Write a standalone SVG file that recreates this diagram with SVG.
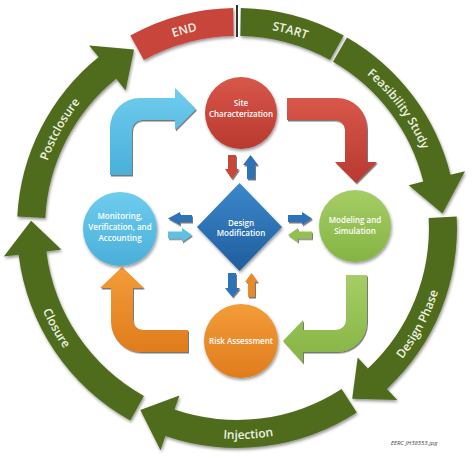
<svg xmlns="http://www.w3.org/2000/svg" xmlns:xlink="http://www.w3.org/1999/xlink" width="474" height="461" viewBox="0 0 474 461">
<style>
.ring{fill:#506c1e;filter:url(#sh)}
.rlab{font-family:"Open Sans","Liberation Sans",sans-serif;font-size:12px;font-weight:600;fill:#eef1e2;text-anchor:middle}
.nlab{font-family:"Open Sans","Liberation Sans",sans-serif;font-size:8px;font-weight:600;fill:#ffffff;text-anchor:middle}
.node{filter:url(#sh)}
.conn path{filter:url(#sh2)}
</style>
<defs>
<filter id="sh" x="-20%" y="-20%" width="140%" height="140%"><feDropShadow dx="1" dy="2" stdDeviation="1.5" flood-color="#000" flood-opacity="0.4"/></filter>
<filter id="sh2" x="-20%" y="-20%" width="140%" height="140%"><feDropShadow dx="1" dy="1.5" stdDeviation="0.6" flood-color="#1a1a1a" flood-opacity="0.6"/></filter>
<linearGradient id="gRed" x1="0" y1="0" x2="0" y2="1"><stop offset="0" stop-color="#d8574a"/><stop offset="1" stop-color="#b9392f"/></linearGradient>
<linearGradient id="gLB" x1="0" y1="0" x2="0" y2="1"><stop offset="0" stop-color="#6fcdee"/><stop offset="1" stop-color="#4aafd9"/></linearGradient>
<linearGradient id="gGr" x1="0" y1="0" x2="0" y2="1"><stop offset="0" stop-color="#a6cd66"/><stop offset="1" stop-color="#84b443"/></linearGradient>
<linearGradient id="gOr" x1="0" y1="0" x2="0" y2="1"><stop offset="0" stop-color="#f39c38"/><stop offset="1" stop-color="#e07c1d"/></linearGradient>
<linearGradient id="gBl" x1="0" y1="0" x2="0" y2="1"><stop offset="0" stop-color="#3c88cb"/><stop offset="1" stop-color="#1f5d9d"/></linearGradient>
<path id="cw" d="M237,27 A201,201 0 1 1 237,429 A201,201 0 1 1 237,27"/>
<path id="ccw" d="M237,17 A211,211 0 1 0 237,439 A211,211 0 1 0 237,17"/>
</defs>
<rect width="474" height="461" fill="#ffffff"/>

<g id="end">
<path d="M130.3,35.6 A220,220 0 0 1 233.2,8.0 L233.65,36.0 A192,192 0 0 0 143.9,60.1 Z" fill="#c8443b" filter="url(#sh)"/>
<text class="rlab"><textPath href="#cw" xlink:href="#cw" startOffset="1210">END</textPath></text>
</g>
<g id="start">
<path class="ring" d="M240.8,8.0 A220,220 0 0 1 343.7,35.6 L330.1,60.1 A192,192 0 0 0 240.35,36.0 Z"/>
<text class="rlab"><textPath href="#cw" xlink:href="#cw" startOffset="53">START</textPath></text>
</g>
<line x1="237" y1="5" x2="237" y2="37" stroke="#1e1e1e" stroke-width="1.8"/>
<g id="feasibility">
<path class="ring" d="M347,37.5 A220,220 0 0 1 450.5,174.8 L465.0,171.2 L442.5,213.6 L408.7,185.2 L423.3,181.6 A192,192 0 0 0 333,61.7 Z"/>
<text class="rlab"><textPath href="#cw" xlink:href="#cw" startOffset="188">Feasibility Study</textPath></text>
</g>
<g id="design-phase">
<path class="ring" d="M456.7,216.5 A220,220 0 0 1 387.0,388.9 L397.3,399.9 L352.2,398.8 L357.7,357.5 L367.9,368.4 A192,192 0 0 0 428.7,218.0 Z"/>
<text class="rlab"><textPath href="#ccw" xlink:href="#ccw" startOffset="891">Design Phase</textPath></text>
</g>
<g id="injection">
<path class="ring" d="M356.8,412.5 A220,220 0 0 1 165.4,436.0 L160.5,450.2 L140.3,409.9 L179.4,395.4 L174.5,409.5 A192,192 0 0 0 341.6,389.0 Z"/>
<text class="rlab"><textPath href="#ccw" xlink:href="#ccw" startOffset="674">Injection</textPath></text>
</g>
<g id="closure">
<path class="ring" d="M130.3,420.4 A220,220 0 0 1 18.6,254.8 L3.8,256.6 L31.1,220.8 L61.3,249.6 L46.4,251.4 A192,192 0 0 0 143.9,395.9 Z"/>
<text class="rlab"><textPath href="#ccw" xlink:href="#ccw" startOffset="438">Closure</textPath></text>
</g>
<g id="postclosure">
<path class="ring" d="M17.3,216.5 A220,220 0 0 1 98.6,57.0 L89.1,45.4 L134,49.6 L125.6,90.5 L116.2,78.8 A192,192 0 0 0 45.3,218.0 Z"/>
<text class="rlab"><textPath href="#cw" xlink:href="#cw" startOffset="1049">Postclosure</textPath></text>
</g>

<g id="connectors" class="conn">
<path d="M110,175 L110,128 A30,30 0 0 1 140,98 L175,98 L175,88 L196,109 L175,130 L175,120 L142,120 A10,10 0 0 0 132,130 L132,175 Z" fill="url(#gLB)"/>
<path d="M287,98 L337,98 A30,30 0 0 1 367,128 L367,162 L377,162 L356,183 L335,162 L345,162 L345,130 A10,10 0 0 0 335,120 L287,120 Z" fill="url(#gRed)"/>
<path d="M346,275 L367,275 L367,322 A30,30 0 0 1 337,352 L303,352 L303,363 L283,341 L303,320 L303,330 L336,330 A10,10 0 0 0 346,320 Z" fill="url(#gGr)"/>
<path d="M188,330 L143,330 A10,10 0 0 1 133,320 L133,288 L144,288 L122,267 L100,288 L111,288 L111,322 A30,30 0 0 0 141,352 L188,352 Z" fill="url(#gOr)"/>
<path d="M228,155 L236,155 L236,169 L239,169 L232,179 L225,169 L228,169 Z" fill="#c8463b"/>
<path d="M247,179 L255,179 L255,165 L258,165 L250.5,155 L243,165 L247,165 Z" fill="#2f72b8"/>
<path d="M228,273 L236,273 L236,288 L240,288 L232.5,297 L225,288 L228,288 Z" fill="#2f72b8"/>
<path d="M248,297 L255,297 L255,282 L258,282 L251.5,273 L245,282 L248,282 Z" fill="#e8892c"/>
<path d="M192,215 L192,222 L180,222 L180,225 L168,218.5 L180,212 L180,215 Z" fill="#2f72b8"/>
<path d="M168,231.5 L168,238.5 L182,238.5 L182,242 L192,235 L182,228 L182,231.5 Z" fill="#5fc0e6"/>
<path d="M288,215 L288,222 L302,222 L302,225 L312,218.5 L302,212 L302,215 Z" fill="#2f72b8"/>
<path d="M312,231.5 L312,238.5 L298,238.5 L298,242 L288,235 L298,228 L298,231.5 Z" fill="#93c04f"/>
</g>

<g id="site-characterization">
<circle class="node" cx="241" cy="113" r="36" fill="url(#gRed)"/>
<text class="nlab" x="241" y="106">Site</text>
<text class="nlab" x="241" y="116.5">Characterization</text>
</g>
<g id="design-modification">
<path class="node" d="M239.5,183 L282,227 L239.5,271 L197,227 Z" fill="url(#gBl)"/>
<text class="nlab" x="241" y="225.5">Design</text>
<text class="nlab" x="241" y="235.5">Modification</text>
</g>
<g id="monitoring">
<circle class="node" cx="120" cy="229" r="37" fill="url(#gLB)"/>
<text class="nlab" x="120" y="218.5">Monitoring,</text>
<text class="nlab" x="120" y="229.5">Verification, and</text>
<text class="nlab" x="120" y="240.5">Accounting</text>
</g>
<g id="modeling">
<circle class="node" cx="355" cy="226" r="36" fill="url(#gGr)"/>
<text class="nlab" x="355" y="223">Modeling and</text>
<text class="nlab" x="355" y="234">Simulation</text>
</g>
<g id="risk-assessment">
<circle class="node" cx="241" cy="341" r="37" fill="url(#gOr)"/>
<text class="nlab" x="241" y="344">Risk Assessment</text>
</g>
<text x="414" y="445" font-family="'Open Sans','Liberation Sans',sans-serif" font-size="6" font-style="italic" fill="#444" text-anchor="middle">EERC JH38553.jpg</text>
</svg>
